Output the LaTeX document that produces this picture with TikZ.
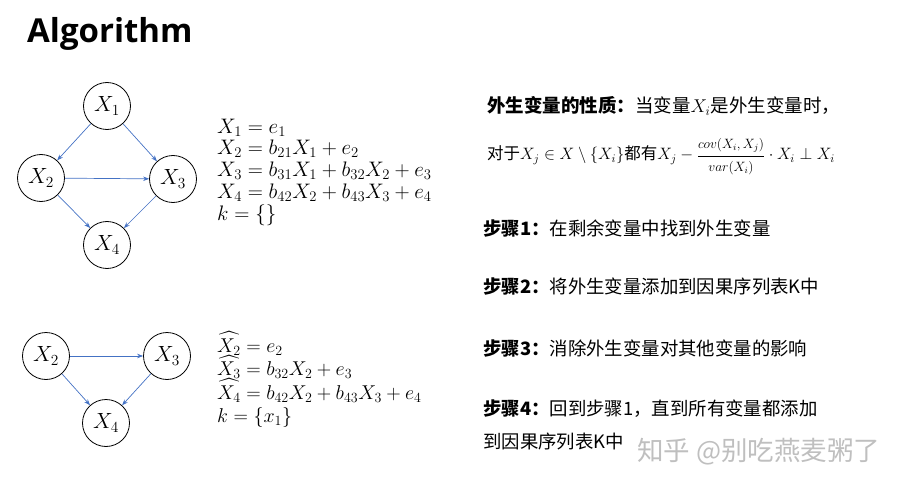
\RequirePackage{fix-cm}
\documentclass[tikz,border=0pt]{standalone}
\usepackage{amsmath,amssymb}
\usepackage{fontspec}
\setmainfont{Noto Sans CJK SC}
\newfontfamily\titlefont{Open Sans}
\usetikzlibrary{arrows.meta}
\definecolor{edgeblue}{RGB}{68,114,196}

\begin{document}
\begin{tikzpicture}[x=1pt,y=-1pt,
   var/.style={circle,draw,line width=0.8pt,minimum size=47pt,inner sep=0pt,
               font=\fontsize{22}{22}\selectfont},
   edge/.style={draw=edgeblue,line width=0.7pt,-{Stealth[length=6pt,width=4.5pt]}},
   eqn/.style={anchor=base west,inner sep=0pt,font=\fontsize{21}{22}\selectfont},
   txt/.style={anchor=base west,inner sep=0pt,font=\fontsize{18.4}{24}\selectfont}]
   \useasboundingbox (0,0) rectangle (906,487);

   \node[anchor=base west,inner sep=0pt,font=\titlefont\bfseries\fontsize{33}{33}\selectfont]
      (title) at (27,43) {Algorithm};

   % full graph
   \node[var] (x1) at (107,106) {$X_1$};
   \node[var] (x2) at (41,178) {$X_2$};
   \node[var] (x3) at (173,179) {$X_3$};
   \node[var] (x4) at (107,245) {$X_4$};
   \draw[edge] (x1) -- (x2);
   \draw[edge] (x1) -- (x3);
   \draw[edge] (x2) -- (x3);
   \draw[edge] (x2) -- (x4);
   \draw[edge] (x3) -- (x4);

   \foreach \eq [count=\i] in {X_1 = e_1, X_2 = b_{21}X_1 + e_2,
        X_3 = b_{31}X_1 + b_{32}X_2 + e_3, X_4 = b_{42}X_2 + b_{43}X_3 + e_4, k = \{\}}
      \node[eqn] (eqa\i) at (217,{133+21.8*(\i-1)}) {$\eq$};

   % graph after removing X_1
   \node[var] (y2) at (46,356) {$X_2$};
   \node[var] (y3) at (167,356) {$X_3$};
   \node[var] (y4) at (106,423) {$X_4$};
   \draw[edge] (y2) -- (y3);
   \draw[edge] (y2) -- (y4);
   \draw[edge] (y3) -- (y4);

   \foreach \eq [count=\i] in {\smash[t]{\widehat{X_2}} = e_2, \smash[t]{\widehat{X_3}} = b_{32}X_2 + e_3,
        \smash[t]{\widehat{X_4}} = b_{42}X_2 + b_{43}X_3 + e_4, k = \{x_1\}}
      \node[eqn,font=\fontsize{20}{22}\selectfont] (eqb\i) at (217,{352+23.5*(\i-1)}) {$\eq$};

   % property and steps
   \node[txt,font=\fontsize{18.5}{24}\selectfont] (prop) at (487,113)
      {\textbf{外生变量的性质：}当变量$X_i$是外生变量时，};
   \node[txt,font=\fontsize{16.5}{24}\selectfont] (cond) at (487,160)
      {对于$X_j \in X \setminus \{X_i\}$都有$X_j - \dfrac{\mbox{\fontsize{13.5}{14}\selectfont$cov(X_i,X_j)$}}{\mbox{\fontsize{13.5}{14}\selectfont$var(X_i)$}} \cdot X_i \perp X_i$};
   \node[txt] (s1) at (483,235) {\textbf{步骤1：}在剩余变量中找到外生变量};
   \node[txt] (s2) at (483,293) {\textbf{步骤2：}将外生变量添加到因果序列表K中};
   \node[txt] (s3) at (483,355) {\textbf{步骤3：}消除外生变量对其他变量的影响};
   \node[txt] (s4) at (483,415) {\textbf{步骤4：}回到步骤1，直到所有变量都添加};
   \node[txt] (s4b) at (483,448) {到因果序列表K中};

   \node[anchor=base west,inner sep=0pt,text=black!25,font=\fontsize{26.5}{26.5}\selectfont]
      (mark) at (637,460) {知乎 @别吃燕麦粥了};
\end{tikzpicture}
\end{document}
